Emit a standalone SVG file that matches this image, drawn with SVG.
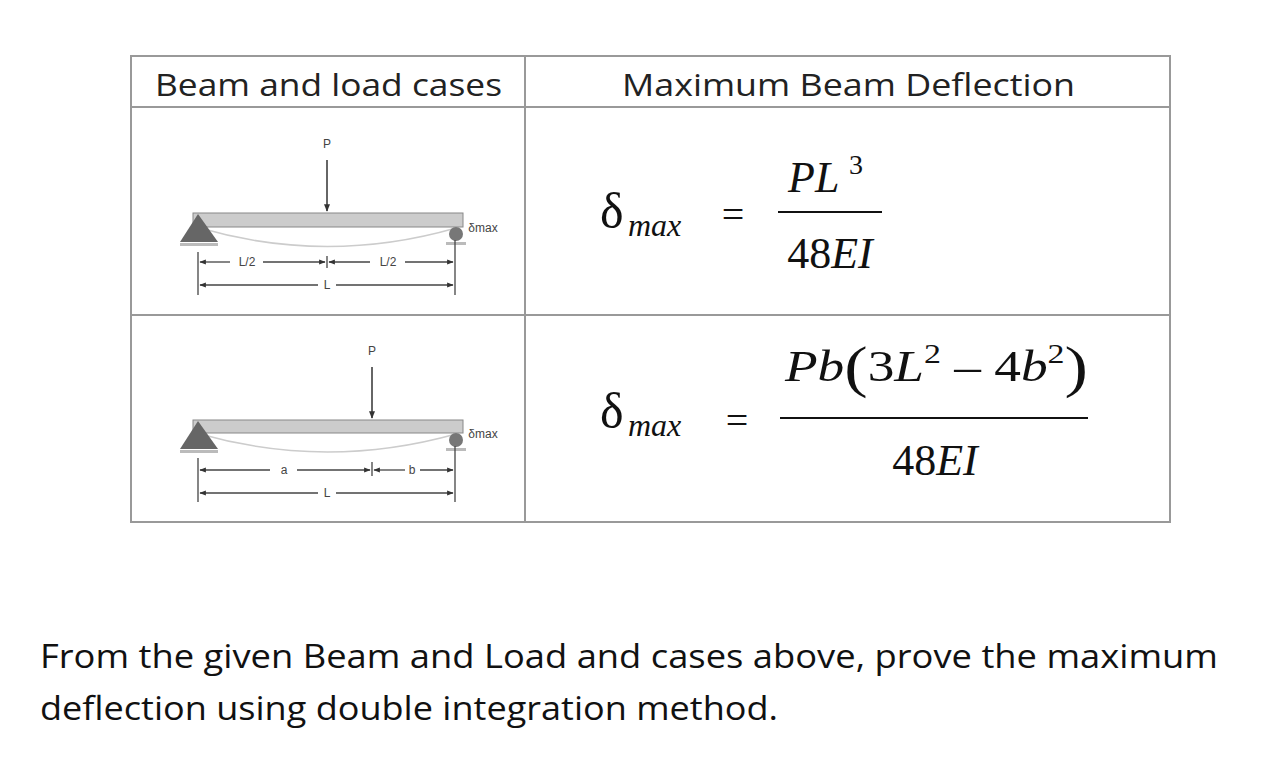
<svg xmlns="http://www.w3.org/2000/svg" width="1278" height="781" viewBox="0 0 1278 781">
<defs>
<marker id="ah" viewBox="0 0 10 10" refX="9" refY="5" markerWidth="5" markerHeight="5" orient="auto-start-reverse"><path d="M0,1 L10,5 L0,9 z" fill="#333"/></marker>
<style>
.h{font-family:"Open Sans","Liberation Sans",sans-serif;font-size:31px;fill:#222}
.s{font-family:"Liberation Sans",sans-serif;font-size:12px;fill:#444}
.m{font-family:"Liberation Serif",serif;font-style:italic;fill:#111}
.n{font-family:"Liberation Serif",serif;fill:#111}
.b{font-family:"Open Sans","Liberation Sans",sans-serif;font-size:33px;fill:#111}
.dim{stroke:#444;stroke-width:1.3;fill:none}
</style>
</defs>
<rect width="1278" height="781" fill="#fff"/>
<g id="table" fill="none" stroke="#999" stroke-width="2">
<rect x="131" y="56" width="1039" height="466"/>
<line x1="131" y1="107" x2="1170" y2="107"/>
<line x1="131" y1="315" x2="1170" y2="315"/>
<line x1="525" y1="56" x2="525" y2="522"/>
</g>
<text class="h" x="155" y="96" textLength="347" lengthAdjust="spacingAndGlyphs">Beam and load cases</text>
<text class="h" x="622" y="96" textLength="453" lengthAdjust="spacingAndGlyphs">Maximum Beam Deflection</text>
<g id="beam1">
<path d="M200,228 Q327,265 456,228" fill="none" stroke="#ccc" stroke-width="1.5"/>
<rect x="193" y="213" width="270" height="14" fill="#ccc" stroke="#888"/>
<path d="M198,214 L180,242 L218,242 z" fill="#666"/>
<rect x="180" y="243" width="38" height="3" fill="#bbb"/>
<circle cx="456" cy="234" r="7" fill="#777"/>
<rect x="446" y="242" width="20" height="3" fill="#bbb"/>
<line x1="327" y1="160" x2="327" y2="211" stroke="#333" stroke-width="1.5" marker-end="url(#ah)"/>
<text class="s" x="327" y="148" text-anchor="middle">P</text>
<text class="s" x="483" y="232" text-anchor="middle" font-size="8" fill="#bbb">δmax</text>
<g class="dim"><line x1="198" y1="252" x2="198" y2="295"/><line x1="455" y1="240" x2="455" y2="295"/><line x1="327" y1="256" x2="327" y2="268"/>
<line x1="200" y1="262" x2="230" y2="262" marker-start="url(#ah)"/><line x1="263" y1="262" x2="325" y2="262" marker-end="url(#ah)"/>
<line x1="329" y1="262" x2="370" y2="262" marker-start="url(#ah)"/><line x1="405" y1="262" x2="453" y2="262" marker-end="url(#ah)"/>
<line x1="200" y1="285" x2="318" y2="285" marker-start="url(#ah)"/><line x1="336" y1="285" x2="453" y2="285" marker-end="url(#ah)"/></g>
<text class="s" x="247" y="266" text-anchor="middle">L/2</text>
<text class="s" x="388" y="266" text-anchor="middle">L/2</text>
<text class="s" x="327" y="289" text-anchor="middle">L</text>
</g>
<g id="beam2">
<path d="M200,434 Q327,470 456,434" fill="none" stroke="#ccc" stroke-width="1.5"/>
<rect x="193" y="420" width="270" height="13" fill="#ccc" stroke="#888"/>
<path d="M198,421 L180,449 L218,449 z" fill="#666"/>
<rect x="180" y="450" width="38" height="3" fill="#bbb"/>
<circle cx="456" cy="440" r="7" fill="#777"/>
<rect x="446" y="448" width="20" height="3" fill="#bbb"/>
<line x1="372" y1="367" x2="372" y2="418" stroke="#333" stroke-width="1.5" marker-end="url(#ah)"/>
<text class="s" x="372" y="355" text-anchor="middle">P</text>
<text class="s" x="483" y="438" text-anchor="middle" font-size="8" fill="#bbb">δmax</text>
<g class="dim"><line x1="198" y1="458" x2="198" y2="502"/><line x1="455" y1="446" x2="455" y2="502"/><line x1="372" y1="462" x2="372" y2="476"/>
<line x1="200" y1="470" x2="270" y2="470" marker-start="url(#ah)"/><line x1="297" y1="470" x2="370" y2="470" marker-end="url(#ah)"/>
<line x1="374" y1="470" x2="405" y2="470" marker-start="url(#ah)"/><line x1="420" y1="470" x2="453" y2="470" marker-end="url(#ah)"/>
<line x1="200" y1="493" x2="318" y2="493" marker-start="url(#ah)"/><line x1="336" y1="493" x2="453" y2="493" marker-end="url(#ah)"/></g>
<text class="s" x="284" y="474" text-anchor="middle">a</text>
<text class="s" x="412" y="474" text-anchor="middle">b</text>
<text class="s" x="327" y="497" text-anchor="middle">L</text>
</g>
<g id="formula1">
<text class="n" x="600" y="228" font-size="50">δ</text>
<text class="m" x="628" y="236" font-size="32">max</text>
<text class="n" x="733" y="228" font-size="40" text-anchor="middle">=</text>
<line x1="778" y1="212" x2="882" y2="212" stroke="#111" stroke-width="2"/>
<text class="m" x="788" y="192" font-size="44">PL</text>
<text class="n" x="849" y="174" font-size="28">3</text>
<text class="n" x="830" y="268" font-size="44" text-anchor="middle">48<tspan font-style="italic">EI</tspan></text>
</g>
<g id="formula2">
<text class="n" x="600" y="428" font-size="50">δ</text>
<text class="m" x="628" y="436" font-size="32">max</text>
<text class="n" x="737" y="434" font-size="40" text-anchor="middle">=</text>
<line x1="780" y1="418" x2="1088" y2="418" stroke="#111" stroke-width="2"/>
<text class="m" x="785" y="381" font-size="44" textLength="303" lengthAdjust="spacingAndGlyphs">Pb<tspan font-style="normal" font-size="58" dy="5">(</tspan><tspan font-style="normal" dy="-5">3</tspan>L<tspan font-style="normal" font-size="28" dy="-18">2</tspan><tspan font-style="normal" dy="18"> – 4</tspan>b<tspan font-style="normal" font-size="28" dy="-18">2</tspan><tspan font-style="normal" font-size="58" dy="23">)</tspan></text>
<text class="n" x="935" y="475" font-size="44" text-anchor="middle">48<tspan font-style="italic">EI</tspan></text>
</g>
<text class="b" x="40" y="668" textLength="1178" lengthAdjust="spacingAndGlyphs">From the given Beam and Load and cases above, prove the maximum</text>
<text class="b" x="40" y="720" textLength="738" lengthAdjust="spacingAndGlyphs">deflection using double integration method.</text>
</svg>
